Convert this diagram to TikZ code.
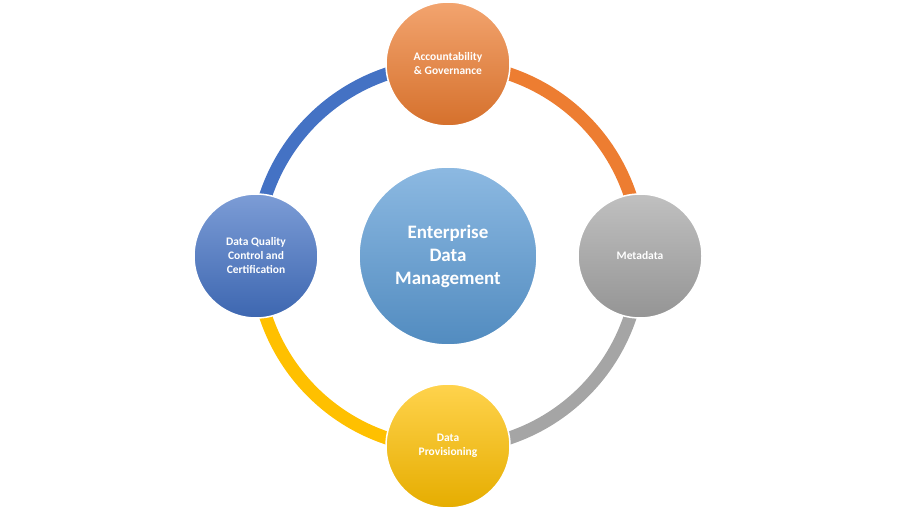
\documentclass[tikz,border=0pt]{standalone}
\usepackage{fontspec}
\setmainfont{Carlito}
\definecolor{cOr}{RGB}{237,125,49}
\definecolor{cGr}{RGB}{165,165,165}
\definecolor{cYe}{RGB}{255,192,0}
\definecolor{cBl}{RGB}{68,114,196}
\definecolor{cCe}{RGB}{91,155,213}
\begin{document}
\begin{tikzpicture}[x=1pt,y=1pt,
  ball/.style={circle,minimum size=124pt,inner sep=0pt,align=center,text=white,font=\fontsize{11.5}{14}\selectfont\bfseries,
    top color=#1!70!white,bottom color=#1!90!black,shading angle=0,draw=white,line width=1.5pt},
  ring/.style={line width=13pt,draw=#1}]
\useasboundingbox (0,0) rectangle (897,512);
\coordinate (c) at (448,256);
\draw[ring=cBl] (c) ++(90:192) arc (90:180:192);
\draw[ring=cOr] (c) ++(0:192) arc (0:90:192);
\draw[ring=cGr] (c) ++(-90:192) arc (-90:0:192);
\draw[ring=cYe] (c) ++(180:192) arc (180:270:192);
\node[ball=cCe,minimum size=178pt,font=\fontsize{19}{23}\selectfont\bfseries] (em) at (c) {Enterprise\\Data\\Management};
\node[ball=cOr] (ag) at (448,448) {Accountability\\\& Governance};
\node[ball=cGr] (md) at (640,256) {Metadata};
\node[ball=cYe] (dp) at (448,66) {Data\\Provisioning};
\node[ball=cBl] (dq) at (256,256) {Data Quality\\Control and\\Certification};
\end{tikzpicture}
\end{document}
